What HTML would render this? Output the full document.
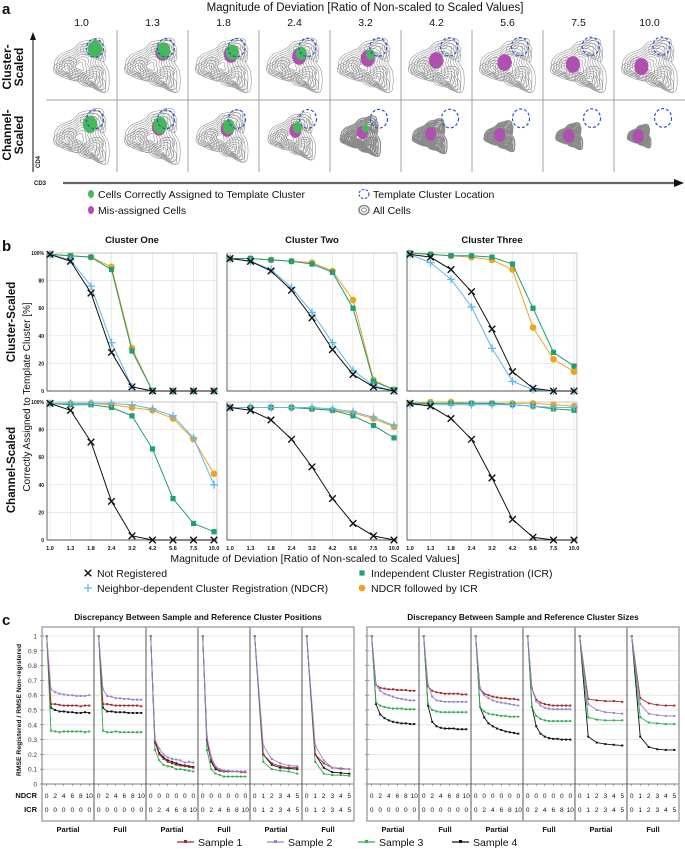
<!DOCTYPE html>
<html><head><meta charset="utf-8"><style>
html,body{margin:0;padding:0;background:#fff;}
svg{display:block;font-family:"Liberation Sans",sans-serif;}
</style></head><body>
<svg id="fig" width="685" height="849" viewBox="0 0 685 849" xmlns="http://www.w3.org/2000/svg"></svg>
<script>
// ---------- Panel a data ----------
const aMagnitudes = ["1.0","1.3","1.8","2.4","3.2","4.2","5.6","7.5","10.0"];
const aGreenFrac = [1,0.95,0.8,0.5,0.15,0,0,0,0];
const aShrink = [1,1,0.93,0.85,0.72,0.62,0.55,0.48,0.42];
// ---------- Panel b data ----------
const bCategories = ["1.0","1.3","1.8","2.4","3.2","4.2","5.6","7.5","10.0"];
const bYTicks = [0,20,40,60,80,100];
const bClusters = ["Cluster One","Cluster Two","Cluster Three"];
const csNotReg = [[99,94,71,28,3,0,0,0,0],[96,94,87,73,53,30,12,3,0],[99,97,88,72,45,14,2,0,0]];
const csNDCR = [[99,95,76,35,3,0,0,0,0],[96,94,88,75,57,35,15,4,0],[99,93,81,61,31,7,1,0,0]];
const csICR = [[99,98,97,88,29,0,0,0,0],[96,96,95,94,92,86,60,7,1],[100,99,98,98,97,92,60,28,18]];
const csBoth = [[99,98,97,90,31,0,0,0,0],[96,96,95,94,93,87,66,8,1],[100,99,98,97,95,88,46,23,14]];
const chNotReg = [[99,94,71,28,3,0,0,0,0],[96,94,87,73,53,30,12,3,0],[99,97,88,73,45,15,2,0,0]];
const chNDCR = [[99,99,99,99,98,95,90,74,40],[96,96,96,96,96,95,93,89,83],[98,98,98,98,98,98,97,96,96]];
const chICR = [[99,98,98,96,90,66,30,12,6],[96,96,96,96,95,94,90,83,74],[99,99,99,99,99,98,97,95,94]];
const chBoth = [[99,99,99,98,96,94,88,73,48],[96,96,96,96,95,94,92,88,82],[99,100,100,99,99,99,99,98,97]];
// ---------- Panel c data ----------
const cYTicks = [0,0.1,0.2,0.3,0.4,0.5,0.6,0.7,0.8,0.9,1];
const cBoxLabels = ["Partial","Full","Partial","Full","Partial","Full"];
const cNDCRLabels = [["0","2","4","6","8","10"],["0","2","4","6","8","10"],["0","0","0","0","0","0"],["0","0","0","0","0","0"],["0","1","2","3","4","5"],["0","1","2","3","4","5"]];
const cICRLabels = [["0","0","0","0","0","0"],["0","0","0","0","0","0"],["0","2","4","6","8","10"],["0","2","4","6","8","10"],["0","1","2","3","4","5"],["0","1","2","3","4","5"]];
const posS1 = [[1,.54,.54,.535,.53,.53,.53,.53,.525,.53,.53],[1,.54,.54,.535,.53,.53,.53,.53,.53,.53,.525],[1,.28,.2,.17,.15,.14,.13,.125,.12,.115,.11],[1,.3,.16,.11,.09,.09,.085,.085,.085,.08,.08],[1,.2,.14,.12,.11,.11],[1,.2,.14,.11,.105,.1]];
const posS2 = [[1,.64,.62,.61,.605,.6,.6,.595,.595,.595,.6],[1,.64,.595,.59,.58,.58,.575,.575,.57,.57,.57],[1,.3,.24,.2,.18,.17,.165,.16,.145,.15,.145],[1,.32,.18,.12,.1,.09,.09,.085,.085,.085,.085],[1,.26,.17,.14,.125,.12],[1,.26,.16,.11,.1,.1]];
const posS3 = [[1,.36,.355,.35,.355,.355,.355,.355,.355,.35,.355],[1,.36,.35,.35,.355,.35,.35,.35,.35,.35,.35],[1,.23,.16,.13,.12,.115,.1,.1,.095,.09,.085],[1,.23,.1,.07,.06,.05,.05,.05,.05,.05,.05],[1,.15,.1,.09,.085,.07],[1,.15,.07,.06,.06,.055]];
const posS4 = [[1,.515,.5,.49,.49,.485,.485,.48,.48,.485,.48],[1,.515,.49,.49,.485,.485,.485,.48,.48,.48,.48],[1,.29,.21,.18,.16,.15,.14,.13,.125,.12,.115],[1,.29,.15,.1,.09,.085,.085,.085,.085,.085,.085],[1,.2,.13,.11,.105,.1],[1,.2,.11,.08,.075,.07]];
const sizeS1 = [[1,.67,.65,.645,.64,.64,.635,.635,.635,.63,.63],[1,.66,.63,.62,.615,.61,.61,.61,.61,.605,.605],[1,.645,.61,.6,.59,.585,.58,.58,.575,.575,.57],[1,.645,.57,.55,.54,.535,.53,.53,.53,.53,.53],[1,.575,.565,.56,.56,.555],[1,.58,.545,.535,.53,.53]];
const sizeS2 = [[1,.67,.63,.61,.6,.59,.58,.575,.57,.565,.565],[1,.67,.59,.565,.56,.555,.555,.555,.555,.555,.555],[1,.64,.6,.58,.565,.555,.55,.545,.54,.535,.53],[1,.64,.56,.53,.515,.51,.505,.505,.505,.505,.505],[1,.54,.5,.485,.48,.475],[1,.54,.475,.465,.46,.46]];
const sizeS3 = [[1,.55,.53,.52,.515,.51,.51,.51,.505,.505,.505],[1,.54,.5,.49,.485,.485,.485,.485,.485,.485,.485],[1,.52,.49,.475,.47,.465,.46,.46,.455,.455,.455],[1,.52,.46,.44,.43,.425,.425,.425,.425,.425,.425],[1,.45,.435,.43,.43,.43],[1,.45,.415,.41,.405,.405]];
const sizeS4 = [[1,.54,.47,.445,.43,.42,.415,.41,.41,.405,.405],[1,.53,.42,.39,.38,.375,.375,.375,.37,.37,.37],[1,.52,.45,.41,.39,.375,.365,.355,.35,.345,.34],[1,.52,.39,.34,.32,.31,.305,.305,.3,.3,.3],[1,.32,.28,.27,.265,.26],[1,.32,.25,.235,.23,.23]];

const NS="http://www.w3.org/2000/svg";
const svg=document.getElementById('fig');
function el(tag,attrs,parent,text){const e=document.createElementNS(NS,tag);for(const k in attrs)e.setAttribute(k,attrs[k]);if(text!==undefined)e.textContent=text;(parent||svg).appendChild(e);return e;}
function grp(name,parent){const g=el('g',{},parent);return g;}
function txt(name,x,y,s,opts,parent){const t=el('text',Object.assign({x:x,y:y,'font-size':11,fill:'#111'},opts||{}),parent,s);return t;}

// ================= PANEL A =================
const gA=grp('panel-a');
txt('panel-a-letter',2,14,'a',{'font-size':15,'font-weight':'bold'},gA);
txt('panel-a-title',365,11,'Magnitude of Deviation  [Ratio of Non-scaled to Scaled Values]',{'font-size':11.5,'text-anchor':'middle'},gA);
const aX0=46,aW=71,aTop=30,aMid=100,aBot=172;
el('line',{x1:aX0,y1:aMid,x2:685,y2:aMid,stroke:'#888','stroke-width':0.8},gA);
const blob=[[0.12,0.3],[0.35,0.2],[0.5,0.08],[0.78,0.06],[0.93,0.2],[0.88,0.4],[0.98,0.6],[0.95,0.92],[0.7,0.85],[0.5,0.75],[0.3,0.72],[0.08,0.62],[0.02,0.45]];
function smooth(pts){
  let d='M'+pts[0][0].toFixed(1)+','+pts[0][1].toFixed(1);const n=pts.length;
  for(let i=0;i<n;i++){const p0=pts[(i-1+n)%n],p1=pts[i],p2=pts[(i+1)%n],p3=pts[(i+2)%n];
    d+=`C${(p1[0]+(p2[0]-p0[0])/6).toFixed(1)},${(p1[1]+(p2[1]-p0[1])/6).toFixed(1)} ${(p2[0]-(p3[0]-p1[0])/6).toFixed(1)},${(p2[1]-(p3[1]-p1[1])/6).toFixed(1)} ${p2[0].toFixed(1)},${p2[1].toFixed(1)}`;}
  return d+'Z';
}
function drawContour(g,sx,sy,sw,sh,thick){
  const sw2=thick?1.2:0.55;
  const foci=[[0.45,0.5,9,1],[0.22,0.55,4,0.45],[0.68,0.72,5,0.5],[0.7,0.22,4,0.45]];
  foci.forEach(f=>{
    for(let k=0;k<f[2];k++){
      const s=f[3]*(1-k/(f[2]+0.5));
      const pts=blob.map(p=>[sx+(f[0]+(p[0]-0.5)*s+(0.5-f[0])*(s*0))*sw,sy+(f[1]+(p[1]-0.5)*s)*sh]);
      if(f[3]===1){pts.forEach((p,i)=>{p[0]=sx+(f[0]+(blob[i][0]-f[0])*s)*sw;p[1]=sy+(f[1]+(blob[i][1]-f[1])*s)*sh;});}
      el('path',{d:smooth(pts),fill:'none',stroke:'#8a8a8a','stroke-width':sw2},g);
    }
  });
}
aMagnitudes.forEach((m,i)=>{
  const px=aX0+i*aW;
  txt('magnitude-label-'+m,px+aW/2,26,m,{'font-size':10.5,'text-anchor':'middle'},gA);
  if(i>0) el('line',{x1:px,y1:aTop,x2:px,y2:aBot,stroke:'#999','stroke-width':0.9},gA);
  for(let r=0;r<2;r++){
    const py=r===0?aTop:aMid, h=r===0?70:72;
    const g=grp('density-plot-r'+(r+1)+'-c'+(i+1),gA);
    const s=r===0?1:aShrink[i];
    const sw=0.8*aW*s, sh=0.85*h*s;
    const sx=px+0.1*aW+(1-s)*0.15*aW, sy=py+0.1*h+(1-s)*0.4*h;
    drawContour(g,sx,sy,sw,sh,r===1&&i>=4);
    const t=i/8;
    let ccx,ccy;
    if(r===0){ccx=px+aW*(0.69-0.29*t);ccy=py+h*(0.27+0.23*t);}
    else{ccx=sx+sw*(0.65-0.15*t);ccy=sy+sh*(0.28+0.15*t);}
    const sc=r===1?Math.max(0.8,s):1;
    const rx=aW*0.1*sc, ry=h*0.12*sc;
    const gf=aGreenFrac[i];
    if(gf<1) el('ellipse',{cx:ccx-1,cy:ccy+1.5,rx:rx,ry:ry,fill:'#b04fb0'},g);
    if(gf>0) el('ellipse',{cx:ccx+(1-gf)*2,cy:ccy-(1-gf)*3,rx:rx*(0.55+0.45*gf),ry:ry*(0.55+0.45*gf),fill:'#46b85a'},g);
    let bx,by;
    if(r===0){bx=px+aW*(0.69-0.02*t);by=py+h*(0.26-0.03*t);}
    else{bx=px+aW*(0.69);by=py+h*(0.27-0.02*t);}
    el('ellipse',{cx:bx,cy:by,rx:aW*0.12,ry:h*0.13,fill:'none',stroke:'#2a56c6','stroke-width':1.2,'stroke-dasharray':'3,2'},g);
  }
});
txt('row-label-cluster-scaled',12,67,'',{'font-size':12,'font-weight':'bold','text-anchor':'middle',transform:'rotate(-90 12 67)'},gA);
const rl1=gA.lastChild;el('tspan',{x:12,dy:-1},rl1,'Cluster-');el('tspan',{x:12,dy:12},rl1,'Scaled');
txt('row-label-channel-scaled',12,135,'',{'font-size':12,'font-weight':'bold','text-anchor':'middle',transform:'rotate(-90 12 135)'},gA);
const rl2=gA.lastChild;el('tspan',{x:12,dy:-1},rl2,'Channel-');el('tspan',{x:12,dy:12},rl2,'Scaled');
el('line',{x1:33,y1:172,x2:33,y2:38,stroke:'#111','stroke-width':1},gA);
el('path',{d:'M30,40 L33,32 L36,40 Z',fill:'#111'},gA);
txt('cd4-label',40,168,'CD4',{'font-size':6,'font-weight':'bold',transform:'rotate(-90 40 168)'},gA);
txt('cd3-label',34,185,'CD3',{'font-size':6,'font-weight':'bold'},gA);
el('line',{x1:63,y1:183,x2:676,y2:183,stroke:'#666','stroke-width':2.2},gA);
el('path',{d:'M674,179 L684,183 L674,187 Z',fill:'#111'},gA);
const gAL=grp('panel-a-legend',gA);
el('ellipse',{cx:91,cy:194,rx:3,ry:4,fill:'#46b85a'},gAL);
txt('legend-correct-cells',98,198,'Cells Correctly Assigned to Template Cluster',{'font-size':10.5},gAL);
el('ellipse',{cx:91,cy:210,rx:3,ry:4,fill:'#b04fb0'},gAL);
txt('legend-misassigned-cells',98,214,'Mis-assigned Cells',{'font-size':10.5},gAL);
el('ellipse',{cx:364,cy:194,rx:5,ry:4.5,fill:'none',stroke:'#2a56c6','stroke-width':1.1,'stroke-dasharray':'2.5,1.5'},gAL);
txt('legend-template-location',373,198,'Template Cluster Location',{'font-size':10.5},gAL);
el('ellipse',{cx:364,cy:210,rx:5,ry:4.5,fill:'none',stroke:'#888','stroke-width':1.6},gAL);
el('ellipse',{cx:364,cy:210,rx:2.5,ry:2,fill:'none',stroke:'#888','stroke-width':1},gAL);
txt('legend-all-cells',373,214,'All Cells',{'font-size':10.5},gAL);

// ================= PANEL B =================
const gB=grp('panel-b');
txt('panel-b-letter',2,251,'b',{'font-size':15,'font-weight':'bold'},gB);
const bX0=[47,227,407], bW=170;
const bRows=[{top:253,bot:391,sets:[csBoth,csICR,csNDCR,csNotReg]},{top:402,bot:540,sets:[chBoth,chICR,chNDCR,chNotReg]}];
const bColors=['#f0a31c','#1f9e78','#5fb8ea','#111'];
const bKinds=['circle','square','plus','cross'];
function marker(g,kind,x,y,c){
  if(kind==='circle') el('circle',{cx:x,cy:y,r:3.3,fill:c},g);
  else if(kind==='square') el('rect',{x:x-2.6,y:y-2.6,width:5.2,height:5.2,fill:c},g);
  else if(kind==='plus'){el('path',{d:`M${x-4},${y}H${x+4}M${x},${y-4}V${y+4}`,stroke:c,'stroke-width':1.3},g);}
  else el('path',{d:`M${x-3.3},${y-3.3}L${x+3.3},${y+3.3}M${x-3.3},${y+3.3}L${x+3.3},${y-3.3}`,stroke:c,'stroke-width':1.4},g);
}
bClusters.forEach((n,c)=>txt('cluster-title-'+(c+1),bX0[c]+bW/2,243,n,{'font-size':9.5,'font-weight':'bold','text-anchor':'middle'},gB));
bRows.forEach((row,r)=>{
  const yS=v=>row.bot-(v/100)*(row.bot-row.top);
  bX0.forEach((x0,c)=>{
    const g=grp('line-chart-r'+(r+1)+'-c'+(c+1),gB);
    const xS=i=>x0+3+i*(bW-6)/(bCategories.length-1);
    bCategories.forEach((cat,i)=>el('line',{x1:xS(i),y1:row.top,x2:xS(i),y2:row.bot,stroke:'#e2e2e2','stroke-width':0.7},g));
    bYTicks.forEach(v=>{el('line',{x1:x0,y1:yS(v),x2:x0+bW,y2:yS(v),stroke:'#e2e2e2','stroke-width':0.7},g);
      if(c===0) txt('y-tick',x0-3,yS(v)+2,v===100?'100%':String(v),{'font-size':5,'font-weight':'bold','text-anchor':'end'},g);});
    el('rect',{x:x0,y:row.top,width:bW,height:row.bot-row.top,fill:'none',stroke:'#bbb','stroke-width':0.8},g);
    el('line',{x1:x0,y1:row.top,x2:x0,y2:row.bot,stroke:'#555','stroke-width':0.9},g);
    el('line',{x1:x0,y1:row.bot,x2:x0+bW,y2:row.bot,stroke:'#555','stroke-width':0.9},g);
    row.sets.forEach((set,si)=>{
      const vals=set[c];
      const sg=grp('series-'+bKinds[si],g);
      el('polyline',{points:vals.map((v,i)=>xS(i)+','+yS(v)).join(' '),fill:'none',stroke:bColors[si],'stroke-width':1},sg);
      vals.forEach((v,i)=>marker(sg,bKinds[si],xS(i),yS(v),bColors[si]));
    });
    if(r===1) bCategories.forEach((cat,i)=>txt('x-tick',xS(i),550,cat,{'font-size':5.5,'font-weight':'bold','text-anchor':'middle'},g));
  });
});
txt('row-label-b-cluster-scaled',15,322,'Cluster-Scaled',{'font-size':11.5,'font-weight':'bold','text-anchor':'middle',transform:'rotate(-90 15 322)'},gB);
txt('row-label-b-channel-scaled',15,470,'Channel-Scaled',{'font-size':11.5,'font-weight':'bold','text-anchor':'middle',transform:'rotate(-90 15 470)'},gB);
txt('y-axis-title-b',30,397,'Correctly Assigned to Template Cluster  [%]',{'font-size':10,'text-anchor':'middle',transform:'rotate(-90 30 397)'},gB);
txt('x-axis-title-b',315,562,'Magnitude of Deviation  [Ratio of Non-scaled to Scaled Values]',{'font-size':10.5,'text-anchor':'middle'},gB);
const gBL=grp('panel-b-legend',gB);
marker(gBL,'cross',88,573,'#111');txt('legend-not-registered',97,577,'Not Registered',{'font-size':10.5},gBL);
marker(gBL,'plus',88,588,'#5fb8ea');txt('legend-ndcr',97,592,'Neighbor-dependent Cluster Registration (NDCR)',{'font-size':10.5},gBL);
marker(gBL,'square',362,573,'#1f9e78');txt('legend-icr',371,577,'Independent Cluster Registration (ICR)',{'font-size':10.5},gBL);
marker(gBL,'circle',362,588,'#f0a31c');txt('legend-ndcr-icr',371,592,'NDCR followed by ICR',{'font-size':10.5},gBL);

// ================= PANEL C =================
const gC=grp('panel-c');
txt('panel-c-letter',2,625,'c',{'font-size':15,'font-weight':'bold'},gC);
const cTop=627,cY1=636,cY0=784,cBottom=821,cBoxW=52;
const cSections=[{x0:42,title:'Discrepancy Between Sample and Reference Cluster Positions',data:[posS1,posS2,posS3,posS4],labels:true},
                 {x0:367,title:'Discrepancy Between Sample and Reference Cluster Sizes',data:[sizeS1,sizeS2,sizeS3,sizeS4],labels:false}];
const cColors=['#a8262a','#9684cf','#2fae4e','#111'];
const yC=v=>cY0-v*(cY0-cY1);
cSections.forEach((sec,si)=>{
  const g=grp('rmse-chart-'+(si+1),gC);
  const x1=sec.x0+6*cBoxW;
  txt('chart-title',(sec.x0+x1)/2,620,sec.title,{'font-size':8.3,'font-weight':'bold','text-anchor':'middle'},g);
  cYTicks.forEach(v=>{
    if(v>0) el('line',{x1:sec.x0,y1:yC(v),x2:x1,y2:yC(v),stroke:'#e0e0e0','stroke-width':0.8},g);
    el('line',{x1:sec.x0-2,y1:yC(v),x2:sec.x0+2,y2:yC(v),stroke:'#555','stroke-width':0.6},g);
    if(sec.labels) txt('y-tick',sec.x0-5,yC(v)+2.5,String(v),{'font-size':6.5,'text-anchor':'end',fill:'#333'},g);
  });
  el('line',{x1:sec.x0,y1:cY0,x2:x1,y2:cY0,stroke:'#555','stroke-width':0.8},g);
  for(let b=0;b<6;b++){
    const bx=sec.x0+b*cBoxW;
    if(b>0) el('line',{x1:bx,y1:cTop,x2:bx,y2:cBottom,stroke:'#444','stroke-width':0.9},g);
    const lab=cNDCRLabels[b];
    lab.forEach((l,k)=>{const lx=bx+4.7+k*(cBoxW-9.4)/5;
      el('line',{x1:lx,y1:cY0,x2:lx,y2:cY0+2,stroke:'#555','stroke-width':0.5},g);
      txt('ndcr-value',lx,798,l,{'font-size':6.5,'text-anchor':'middle'},g);
      txt('icr-value',lx,812,cICRLabels[b][k],{'font-size':6.5,'text-anchor':'middle'},g);});
    txt('box-label-'+cBoxLabels[b].toLowerCase(),bx+cBoxW/2,832,cBoxLabels[b],{'font-size':7.5,'font-weight':'bold','text-anchor':'middle'},g);
    [3,2,0,1].forEach(s=>{
      const vals=sec.data[s][b];
      const n=vals.length;
      const xS=i=>bx+4.7+i*(cBoxW-9.4)/(n-1);
      const sg=grp('sample-'+(s+1)+'-line',g);
      el('polyline',{points:vals.map((v,i)=>xS(i)+','+yC(v)).join(' '),fill:'none',stroke:cColors[s],'stroke-width':0.9},sg);
      vals.forEach((v,i)=>el('rect',{x:xS(i)-1,y:yC(v)-1,width:2,height:2,fill:cColors[s]},sg));
    });
  }
  el('rect',{x:sec.x0,y:cTop,width:x1-sec.x0,height:cBottom-cTop,fill:'none',stroke:'#999','stroke-width':1.3},g);
});
txt('ndcr-row-label',37,798,'NDCR',{'font-size':7.5,'font-weight':'bold','text-anchor':'end'},gC);
txt('icr-row-label',37,812,'ICR',{'font-size':7.5,'font-weight':'bold','text-anchor':'end'},gC);
txt('y-axis-title-c',21,710,'RMSE Registered / RMSE Non-registered',{'font-size':6.8,'font-weight':'bold','text-anchor':'middle',transform:'rotate(-90 21 710)'},gC);
const gCL=grp('panel-c-legend',gC);
const legX=[177,267,358,452];
['Sample 1','Sample 2','Sample 3','Sample 4'].forEach((s,i)=>{
  el('line',{x1:legX[i],y1:842,x2:legX[i]+17,y2:842,stroke:cColors[i],'stroke-width':1.2},gCL);
  el('rect',{x:legX[i]+7,y:840,width:3,height:3,fill:cColors[i]},gCL);
  txt('legend-sample-'+(i+1),legX[i]+21,846,s,{'font-size':10.5},gCL);
});
</script>
</body></html>
